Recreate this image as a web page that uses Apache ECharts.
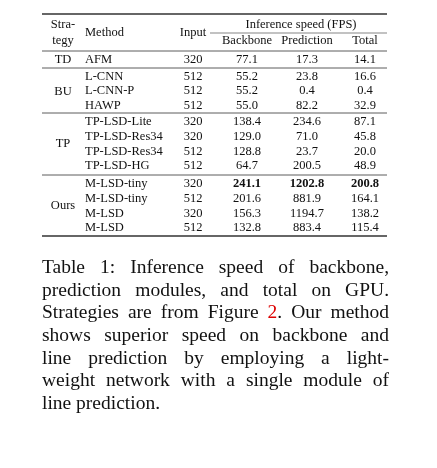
<!DOCTYPE html><html><head><meta charset="utf-8">
<script src="https://cdn.jsdelivr.net/npm/echarts@6/dist/echarts.min.js"></script>
<style>html,body{margin:0;background:#fff}#c{width:437px;height:468px}</style></head><body><div id="c"></div>
<script>
const strategies=[["TD",1],["BU",3],["TP",4],["Ours",4]];
const methods=["AFM","L-CNN","L-CNN-P","HAWP","TP-LSD-Lite","TP-LSD-Res34","TP-LSD-Res34","TP-LSD-HG","M-LSD-tiny","M-LSD-tiny","M-LSD","M-LSD"];
const inputs=[320,512,512,512,320,320,512,512,320,512,320,512];
const backbone=["77.1","55.2","55.2","55.0","138.4","129.0","128.8","64.7","241.1","201.6","156.3","132.8"];
const prediction=["17.3","23.8","0.4","82.2","234.6","71.0","23.7","200.5","1202.8","881.9","1194.7","883.4"];
const total=["14.1","16.6","0.4","32.9","87.1","45.8","20.0","48.9","200.8","164.1","138.2","115.4"];
const boldRow=8;
const captionLines=["Table 1: Inference speed of backbone,","prediction modules, and total on GPU.","Strategies are from Figure 2. Our method","shows superior speed on backbone and","line prediction by employing a light-","weight network with a single module of","line prediction."];

const F='"Liberation Serif","DejaVu Serif",serif';
const g=[];const col='#111';const TF='12.5px ';
function T(x,y,s,align,opt){g.push({type:'text',x:x,y:y,style:Object.assign({text:s,font:TF+F,fill:col,align:align||'center',verticalAlign:'middle'},opt||{})});}
function L(x1,x2,y,w){g.push({type:'line',shape:{x1:x1,y1:y,x2:x2,y2:y},style:{stroke:'#333',lineWidth:w||0.8}});}
const X0=42,X1=387;
const cx={s:63,m:85,i:193,b:247,p:307,t:365};
L(X0,X1,14,1.3);
T(cx.s,25,'Stra-');T(cx.s,41,'tegy');T(cx.m,33,'Method','left');T(cx.i,33,'Input');
T(301,25,'Inference speed (FPS)');L(210,X1,33,0.6);
T(cx.b,41,'Backbone');T(cx.p,41,'Prediction');T(cx.t,41,'Total');
L(X0,X1,51);
const rowY=[60,77,91,106,122,137,152,166,184,199,214,228];
const rules=[68,113,175];
let r=0;
strategies.forEach(([s,n],k)=>{const ys=rowY.slice(r,r+n);T(cx.s,(ys[0]+ys[n-1])/2,s);r+=n;if(k<3)L(X0,X1,rules[k]);});
methods.forEach((m,i)=>{const y=rowY[i];const b=i===boldRow?{font:'bold '+TF+F}:{};
T(cx.m,y,m,'left');T(cx.i,y,String(inputs[i]));T(cx.b,y,backbone[i],'center',b);T(cx.p,y,prediction[i],'center',b);T(cx.t,y,total[i],'center',b);});
L(X0,X1,236,1.3);
const cf='19.5px '+F;const ctx=document.createElement('canvas').getContext('2d');ctx.font=cf;
const CL=42,CR=389;
captionLines.forEach((ln,i)=>{const y=268+i*22.6;const w=ln.split(' ');
 const tw=w.reduce((a,s)=>a+ctx.measureText(s).width,0);
 const gap=(i<captionLines.length-1)?(CR-CL-tw)/(w.length-1):ctx.measureText(' ').width;
 let x=CL;w.forEach(s=>{
  if(s==='2.'){g.push({type:'text',x:x,y:y,style:{text:'2',font:cf,fill:'#d00',verticalAlign:'middle'}});
   g.push({type:'text',x:x+ctx.measureText('2').width,y:y,style:{text:'.',font:cf,fill:col,verticalAlign:'middle'}});}
  else g.push({type:'text',x:x,y:y,style:{text:s,font:cf,fill:col,verticalAlign:'middle'}});
  x+=ctx.measureText(s).width+gap;});
});
const ch=echarts.init(document.getElementById('c'));
ch.setOption({animation:false,graphic:g});
</script></body></html>
